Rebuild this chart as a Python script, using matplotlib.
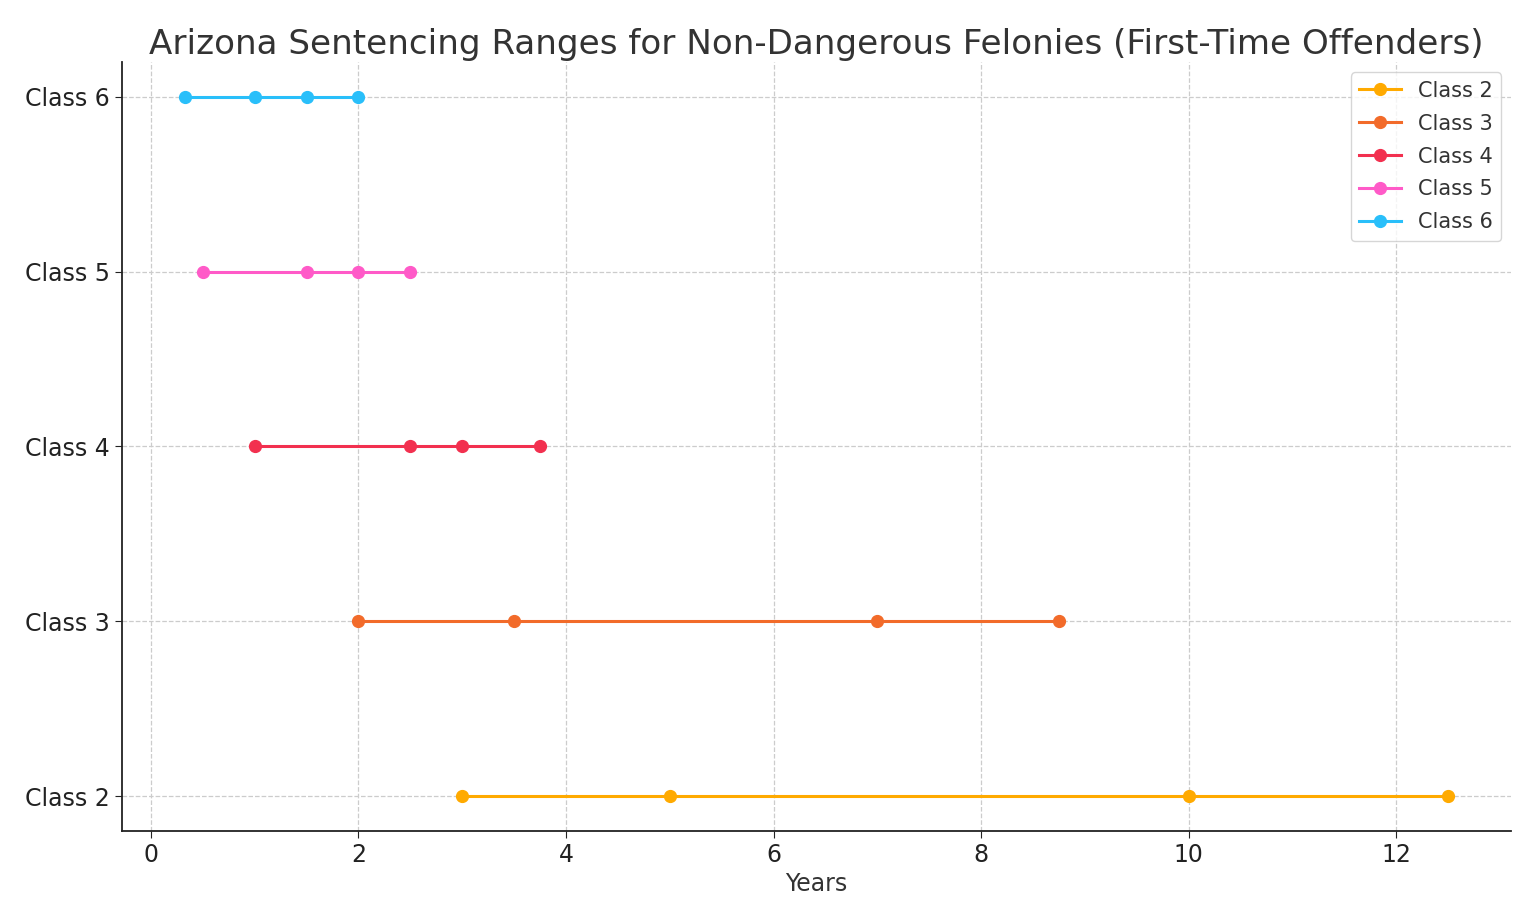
import matplotlib
matplotlib.use('Agg')
import matplotlib.pyplot as plt

# Données : bornes des peines (années) par classe
classes = ["Class 2", "Class 3", "Class 4", "Class 5", "Class 6"]
class2 = [3, 5, 10, 12.5]
class3 = [2, 3.5, 7, 8.75]
class4 = [1, 2.5, 3, 3.75]
class5 = [0.5, 1.5, 2, 2.5]
class6 = [0.33, 1, 1.5, 2]
series = [class2, class3, class4, class5, class6]
colors = ["#FFAA00", "#F26B2A", "#F2304F", "#FF5AC8", "#29BFFA"]

fig, ax = plt.subplots(figsize=(15.36, 9.22), dpi=100)
fig.subplots_adjust(left=0.0794, right=0.984, top=0.9328, bottom=0.0987)

for i, (name, vals, col) in enumerate(zip(classes, series, colors)):
    ax.plot(vals, [name] * len(vals), marker="o", color=col,
            linewidth=2.2, markersize=8.5, label=name)

ax.set_title("Arizona Sentencing Ranges for Non-Dangerous Felonies (First-Time Offenders)",
             fontsize=24.6, color="#333333")
ax.set_xlabel("Years", fontsize=17, color="#333333")
ax.tick_params(labelsize=17, colors="#222222", length=5)
ax.grid(True, linestyle="--", color="#cccccc", linewidth=0.9)
ax.set_axisbelow(True)
for s in ["top", "right"]:
    ax.spines[s].set_visible(False)
for s in ["left", "bottom"]:
    ax.spines[s].set_linewidth(1.3)
    ax.spines[s].set_color("#222222")

leg = ax.legend(loc="upper right", fontsize=15, frameon=True, labelspacing=0.62)
for t in leg.get_texts():
    t.set_color("#333333")

fig.savefig("out.png", dpi=100)
